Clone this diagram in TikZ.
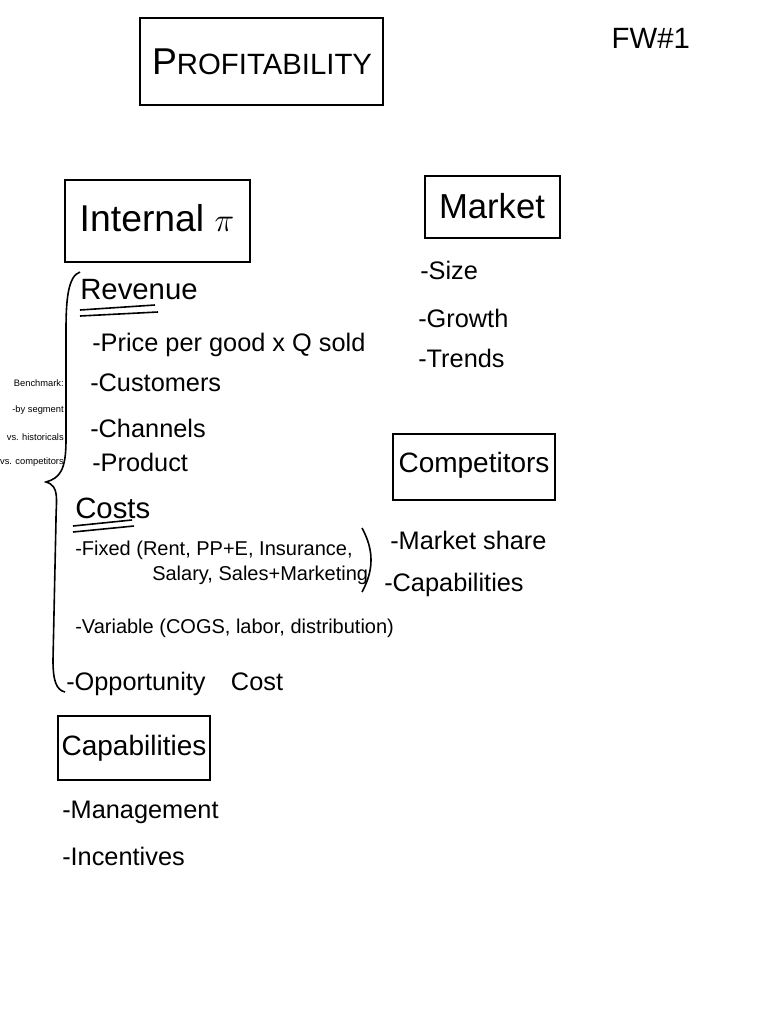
\documentclass[tikz,border=0pt]{standalone}
\usepackage{fontspec}
\setmainfont{Liberation Sans}
\begin{document}
\begin{tikzpicture}[x=0.75pt,y=-0.75pt,
  box/.style={draw,line width=1.3pt},
  item/.style={anchor=west,font=\fontsize{19}{22}\selectfont,inner sep=0pt},
  itemsm/.style={anchor=west,font=\fontsize{15}{18}\selectfont,inner sep=0pt},
  head/.style={anchor=west,font=\fontsize{22}{26}\selectfont,inner sep=0pt},
  small/.style={anchor=east,font=\fontsize{7}{9}\selectfont,inner sep=0pt},
  ink/.style={line width=1.2pt}]
\useasboundingbox[fill=white] (0,0) rectangle (768,1024);
% title
\draw[box] (140,18) rectangle (383,105);
\node (title) at (262,62) {\fontsize{28}{32}\selectfont P\fontsize{22}{26}\selectfont ROFITABILITY};
\node[anchor=west] (fw) at (607,38) {\fontsize{22}{26}\selectfont FW\#1};
% internal
\draw[box] (65,180) rectangle (250,262);
\node (int) at (157,218) {\fontsize{28}{32}\selectfont Internal $\pi$};
% market
\draw[box] (425,176) rectangle (560,238);
\node (mkt) at (492,206) {\fontsize{26}{30}\selectfont Market};
\node[item] (s1) at (420,270) {-Size};
\node[item] (s2) at (418,318) {-Growth};
\node[item] (s3) at (418,358) {-Trends};
% competitors
\draw[box] (393,434) rectangle (555,500);
\node (comp) at (474,465) {\fontsize{21}{25}\selectfont Competitors};
\node[item] (c1) at (390,540) {-Market share};
\node[item] (c2) at (384,585) {-Capabilities};
% brace
\draw[ink] (80,272) .. controls (68,276) and (66,300) .. (66,330)
  -- (66,440) .. controls (66,470) and (60,478) .. (46,482)
  .. controls (60,486) and (56,500) .. (56,520)
  -- (53,660) .. controls (53,680) and (56,690) .. (65,692);
\node[small] (b1) at (64,383) {Benchmark:};
\node[small] (b2) at (64,410) {-by segment};
\node[small] (b3) at (64,437) {vs. historicals};
\node[small] (b4) at (64,462) {vs. competitors};
% revenue
\node[head] (rev) at (80,290) {Revenue};
\draw[ink] (80,310) -- (155,305) (80,316) -- (158,312);
\node[item] (r1) at (92,345) {-Price per good x Q sold};
\node[item] (r2) at (90,383) {-Customers};
\node[item] (r3) at (90,428) {-Channels};
\node[item] (r4) at (92,462) {-Product};
% costs
\node[head] (cost) at (75,508) {Costs};
\draw[ink] (73,526) -- (132,520) (73,532) -- (134,526);
\node[itemsm] (f1) at (75,550) {-Fixed (Rent, PP+E, Insurance,};
\node[itemsm] (f2) at (152,575) {Salary, Sales+Marketing};
\draw[ink] (362,528) .. controls (374,550) and (374,570) .. (362,592);
\node[itemsm] (v1) at (75,628) {-Variable (COGS, labor, distribution)};
\node[item] (o1) at (66,684) {-Opportunity\quad Cost};
% capabilities
\draw[box] (58,716) rectangle (210,780);
\node (cap) at (134,748) {\fontsize{21}{25}\selectfont Capabilities};
\node[item] (k1) at (62,812) {-Management};
\node[item] (k2) at (62,856) {-Incentives};
\end{tikzpicture}
\end{document}
